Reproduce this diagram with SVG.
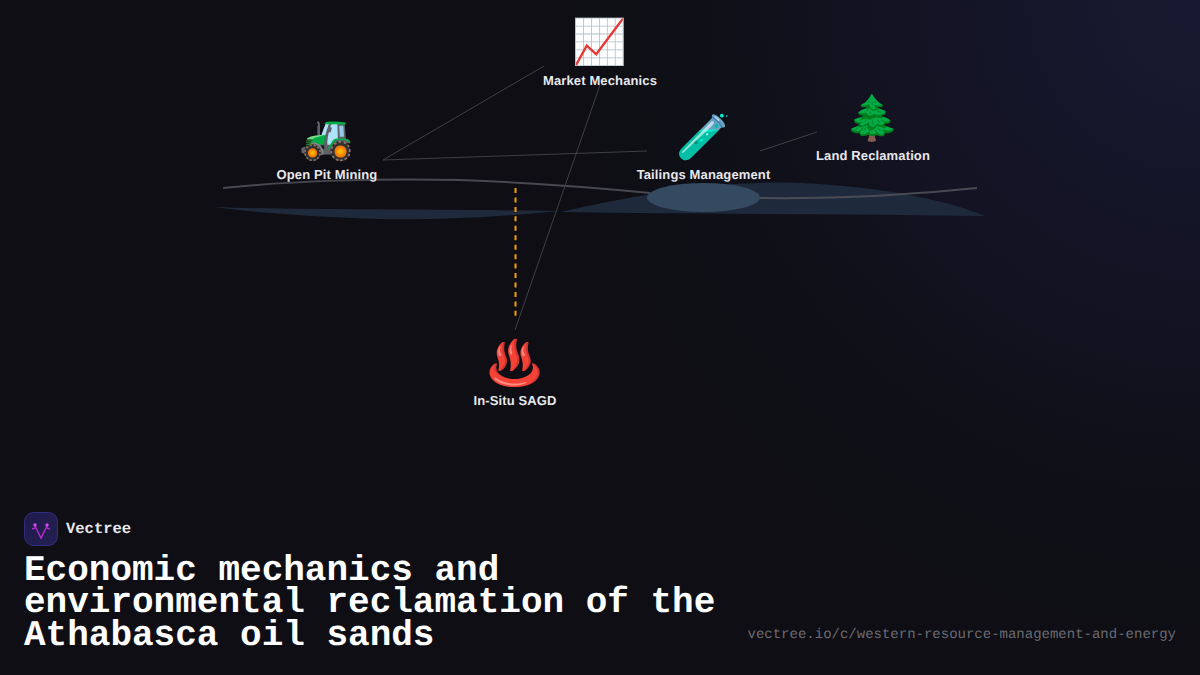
<svg xmlns="http://www.w3.org/2000/svg" width="1200" height="675" viewBox="0 0 1200 675">
<defs>
<radialGradient id="glow" gradientUnits="userSpaceOnUse" cx="1200" cy="0" r="690">
<stop offset="0" stop-color="#1a1a35" stop-opacity="0.9"/>
<stop offset="0.45" stop-color="#16162c" stop-opacity="0.65"/>
<stop offset="1" stop-color="#0e0e14" stop-opacity="0"/>
</radialGradient>
<linearGradient id="badge" x1="0" y1="0" x2="1" y2="1">
<stop offset="0" stop-color="#1e1b4b"/>
<stop offset="1" stop-color="#241f52"/>
</linearGradient>
</defs>
<style>
text{text-rendering:geometricPrecision}
.icon{font-family:"Noto Color Emoji","Liberation Sans",sans-serif;text-anchor:middle;font-size:44px}
.label{font-family:"Liberation Sans",Arial,sans-serif;font-size:13px;font-weight:700;letter-spacing:.13px;fill:#e8e8ec;text-anchor:middle}
.link{fill:none;stroke:#3f3f46;stroke-width:1}
.title{font-family:"Liberation Mono",monospace;font-size:36px;font-weight:700;fill:#fff}
</style>
<rect width="1200" height="675" fill="#0e0e14"/>
<rect width="1200" height="675" fill="url(#glow)"/>
<g id="terrain" fill="#1e293b">
<path d="M213 207C300 210 420 209 560 211C480 219 420 220 380 219C320 217 270 214 213 207Z"/>
<path d="M560 212C640 194 720 180 800 183C880 187 940 198 985 216C850 214 700 214 560 212Z"/>
<path d="M223 188C290 181 380 178 460 180C540 183 600 188 650 193M760 198C830 199 910 195 977 188" fill="none" stroke="#52525b" stroke-width="2" opacity="0.85"/>
<ellipse cx="703.500" cy="197.500" rx="56.500" ry="14.500" fill="#334a60"/>
</g>
<g id="connectors">
<path class="link" d="M383 160L544 66"/>
<path class="link" d="M383 160L647 151"/>
<path class="link" d="M760 151L817 132"/>
<path class="link" d="M600 85L515 330"/>
<path d="M515.500 188V316" fill="none" stroke="#f59e0b" stroke-width="2" stroke-dasharray="5 4.450"/>
</g>
<g id="market-mechanics"><text class="icon" x="600" y="56.500">📈</text><text class="label" x="600" y="85">Market Mechanics</text></g>
<g id="open-pit-mining"><text class="icon" x="327" y="151.500">🚜</text><text class="label" x="327" y="179">Open Pit Mining</text></g>
<g id="tailings-management"><text class="icon" x="703.500" y="151.500">🧪</text><text class="label" x="703.500" y="179">Tailings Management</text></g>
<g id="land-reclamation"><text class="icon" x="873" y="132.500">🌲</text><text class="label" x="873" y="160">Land Reclamation</text></g>
<g id="in-situ-sagd"><text class="icon" x="515" y="377.500">♨️</text><text class="label" x="515" y="405">In-Situ SAGD</text></g>
<g id="brand">
<rect x="24.500" y="512.500" width="33" height="33" rx="9" fill="url(#badge)" stroke="#312e81"/>
<path d="M35 526L41 538L47 526M35 528L32 529M47 528L50 529" fill="none" stroke="#b32bc9" stroke-width="1.500"/>
<circle cx="35" cy="525" r="1.700" fill="#d946ef"/><circle cx="47" cy="525" r="1.700" fill="#d946ef"/>
<text x="66" y="533" font-family="Liberation Mono, monospace" font-size="15.500" font-weight="700" fill="#e8e8ec">Vectree</text>
</g>
<g id="title">
<text class="title" x="24" y="579.500">Economic mechanics and</text>
<text class="title" x="24" y="611.500">environmental reclamation of the</text>
<text class="title" x="24" y="644.500">Athabasca oil sands</text>
</g>
<text x="1176" y="637.500" text-anchor="end" font-family="Liberation Mono, monospace" font-size="14" fill="#6b6b73">vectree.io/c/western-resource-management-and-energy</text>
</svg>
